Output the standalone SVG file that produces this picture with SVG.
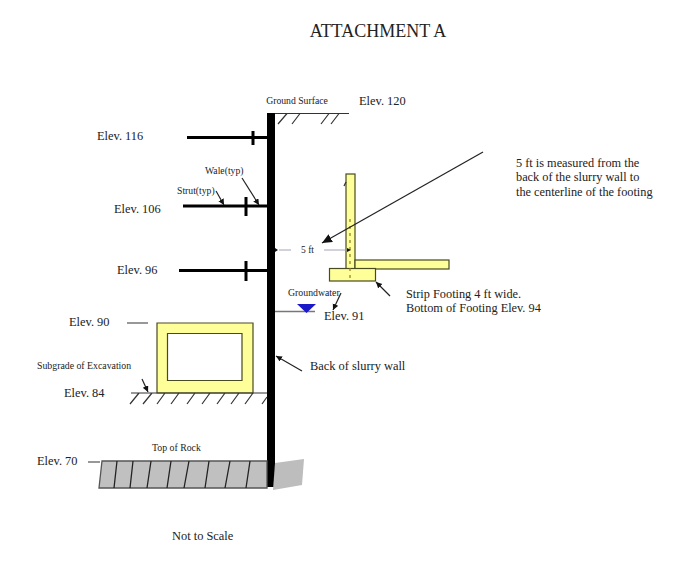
<svg xmlns="http://www.w3.org/2000/svg" width="700" height="570" viewBox="0 0 700 570">
<style>
text{font-family:"Liberation Serif",serif;fill:#222}
.t10{font-size:12.300px}.t12{font-size:12.400px}
.ln{stroke:#333;stroke-width:1.200;fill:none}
.gr{stroke:#777;stroke-width:1.300;fill:none}
.st{stroke:#000;stroke-width:3;fill:none}
.y{fill:#ffff99;stroke:#4a4a20;stroke-width:1.200}
.r{fill:#c0c0c0;stroke:#555;stroke-width:1.300}
.ar{stroke:#222;stroke-width:1.200;fill:none;marker-end:url(#a)}
</style>
<defs><marker id="a" markerWidth="7" markerHeight="7" refX="6" refY="3" orient="auto" markerUnits="userSpaceOnUse"><path d="M0 0L6 3L0 6Z" fill="#111"/></marker>
<marker id="b" markerWidth="12" markerHeight="10" refX="10" refY="4.500" orient="auto" markerUnits="userSpaceOnUse"><path d="M0 0L10 4.500L0 9Z" fill="#111"/></marker></defs>
<rect width="700" height="570" fill="#fff"/>
<text x="378" y="36.500" font-size="18" text-anchor="middle" id="title">ATTACHMENT A</text>
<g id="wall"><rect x="267" y="113" width="8" height="374" fill="#000"/></g>
<g id="ground-surface"><path class="ln" d="M275 113.500H349M278 124L287 113.500M292 124L300 113.500M321 124L329 113.500M331 124L339 113.500"/>
<text x="297" y="104" text-anchor="middle" font-size="9.700">Ground Surface</text><text class="t12" x="359" y="105">Elev. 120</text></g>
<g id="strut-116"><path class="st" d="M187 137.500H267"/><path class="st" d="M253 131V145"/><text class="t12" x="97" y="140">Elev. 116</text></g>
<g id="strut-106"><path class="st" d="M183 206H267"/><path class="st" d="M246 197V216"/><text class="t12" x="114" y="213">Elev. 106</text></g>
<g id="strut-96"><path class="st" d="M179 270.500H267"/><path class="st" d="M246 261V281"/><text class="t12" x="117" y="274">Elev. 96</text></g>
<g id="labels-typ"><text x="205" y="174" font-size="9.700">Wale(typ)</text><text x="177" y="194" font-size="9.700">Strut(typ)</text></g>
<g id="l-wall"><rect class="y" x="346" y="174" width="9" height="95"/><rect class="y" x="355" y="260" width="94" height="9"/><rect class="y" x="329.500" y="268.500" width="46" height="12.500"/>
<path d="M350 219V280" stroke="#8a7a20" stroke-width="1.200" stroke-dasharray="3 4" fill="none"/></g>
<g id="connectors">
<path class="ar" d="M242 178L259 205"/><path class="ar" d="M216 191L224 205"/>
<path class="ln" d="M346 182L344 186"/>
<path d="M279 250H291M324 250H347" stroke="#9a9ab0" stroke-width="0.900" fill="none"/>
<path d="M275 248L278 250L275 252Z" fill="#111"/><path d="M347 248L351 250L347 252Z" fill="#111"/>
<path class="ar" style="marker-end:url(#b)" d="M483 152L322 243"/>
<path class="ar" d="M390 296L376 282"/>
<path class="ar" d="M341 293L333 310"/>
<path class="gr" d="M275 311.500H315"/>
<path class="ar" d="M302 371L276 356"/>
<path class="ar" d="M142 379L148 392"/>
<path class="gr" d="M127 323H148M88 462H100"/>
</g>
<g id="groundwater"><path d="M297 304H316L306.500 313Z" fill="#1a1ac8"/><text x="288" y="296" font-size="9.800">Groundwater</text><text class="t12" x="324" y="320">Elev. 91</text></g>
<g id="five-ft"><text x="307.500" y="253" font-size="9.500" text-anchor="middle">5 ft</text></g>
<g id="note"><text class="t10" x="516" y="167">5 ft is measured from the</text><text class="t10" x="516" y="181">back of the slurry wall to</text><text class="t10" x="516" y="196">the centerline of the footing</text></g>
<g id="footing-label"><text class="t10" x="406" y="298">Strip Footing 4 ft wide.</text><text class="t10" x="406" y="312">Bottom of Footing Elev. 94</text></g>
<g id="back-label"><text class="t12" x="310" y="370">Back of slurry wall</text></g>
<g id="excavation"><path fill-rule="evenodd" class="y" d="M157 323H253V393H157ZM167.500 333.500V380.500H242V333.500Z"/>
<path class="ln" d="M131 393H267M130 404L139 393M143 404L152 393M157 404L165 393M171 404L179 393M187 404L195 393M202 404L210 393M217 404L225 393M231 404L239 393M245 404L253 393M262 404L267 397"/>
<text x="37" y="369" font-size="9.800">Subgrade of Excavation</text><text class="t12" x="69" y="326">Elev. 90</text><text class="t12" x="64" y="397">Elev. 84</text></g>
<g id="rock"><path class="r" d="M102 461H267V488H99Z"/>
<path d="M117 461L114 488M133 461L130 488M151 461L147 488M171 461L167 488M189 461L184 488M209 461L205 488M230 461L225 488M250 461L246 488" stroke="#222" stroke-width="1.300" fill="none"/>
<path d="M275 463L304 459L302 485L273 490Z" fill="#bdbdbd"/>
<text x="152" y="451" font-size="9.800">Top of Rock</text><text class="t12" x="37" y="465">Elev. 70</text></g>
<text class="t12" x="172" y="540" id="scale">Not to Scale</text>
</svg>
